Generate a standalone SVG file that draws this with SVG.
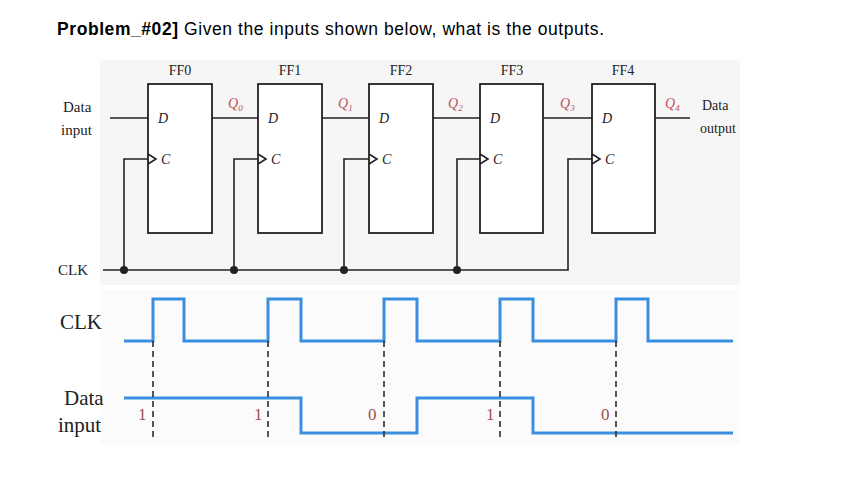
<svg xmlns="http://www.w3.org/2000/svg" width="842" height="497" viewBox="0 0 842 497">
<style>
.s{font-family:"Liberation Serif",serif;fill:#222}
.q{font-family:"Liberation Serif",serif;font-style:italic;fill:#c05060;font-size:14px}
.w{stroke:#222;stroke-width:1.6;fill:none}
.b{stroke:#222;stroke-width:1.8;fill:#fff}
.wave{stroke:#3a8fe0;stroke-width:3;fill:none}
.dash{stroke:#222;stroke-width:1.5;stroke-dasharray:6,4}
.n{font-family:"Liberation Serif",serif;fill:#a05050;font-size:17px}
</style>
<rect width="842" height="497" fill="#fff"/>
<text x="57" y="35" font-family="Liberation Sans,sans-serif" font-size="17.5" fill="#000" textLength="547"><tspan font-weight="bold">Problem_#02]</tspan> Given the inputs shown below, what is the outputs.</text>
<rect x="100" y="60" width="640" height="225" fill="#f6f6f6"/>
<rect x="100" y="290" width="640" height="155" fill="#fbfbfb"/>
<g id="connectors">
<path class="w" d="M110 118H148M212 118H258M322 118H369M433 118H480M543 118H592M655 118H690"/>
<path class="w" d="M103 270H568V159H592M124 270V159H148M234 270V159H258M344 270V159H369M457 270V159H480"/>
<circle cx="124" cy="270" r="4" fill="#222"/><circle cx="234" cy="270" r="4" fill="#222"/><circle cx="344" cy="270" r="4" fill="#222"/><circle cx="457" cy="270" r="4" fill="#222"/>
</g>
<g id="ff0"><rect class="b" x="148" y="84" width="64" height="149"/><text class="s" x="180" y="75" font-size="14" text-anchor="middle">FF0</text><text class="s" x="158" y="123" font-size="14" font-style="italic">D</text><path class="w" d="M148 154L156 159L148 164"/><text class="s" x="161" y="164" font-size="14" font-style="italic">C</text></g>
<g id="ff1"><rect class="b" x="258" y="84" width="64" height="149"/><text class="s" x="290" y="75" font-size="14" text-anchor="middle">FF1</text><text class="s" x="268" y="123" font-size="14" font-style="italic">D</text><path class="w" d="M258 154L266 159L258 164"/><text class="s" x="271" y="164" font-size="14" font-style="italic">C</text></g>
<g id="ff2"><rect class="b" x="369" y="84" width="64" height="149"/><text class="s" x="401" y="75" font-size="14" text-anchor="middle">FF2</text><text class="s" x="379" y="123" font-size="14" font-style="italic">D</text><path class="w" d="M369 154L377 159L369 164"/><text class="s" x="382" y="164" font-size="14" font-style="italic">C</text></g>
<g id="ff3"><rect class="b" x="480" y="84" width="63" height="149"/><text class="s" x="512" y="75" font-size="14" text-anchor="middle">FF3</text><text class="s" x="490" y="123" font-size="14" font-style="italic">D</text><path class="w" d="M480 154L488 159L480 164"/><text class="s" x="493" y="164" font-size="14" font-style="italic">C</text></g>
<g id="ff4"><rect class="b" x="592" y="84" width="63" height="149"/><text class="s" x="623" y="75" font-size="14" text-anchor="middle">FF4</text><text class="s" x="602" y="123" font-size="14" font-style="italic">D</text><path class="w" d="M592 154L600 159L592 164"/><text class="s" x="605" y="164" font-size="14" font-style="italic">C</text></g>
<g id="labels">
<text class="s" x="63" y="112" font-size="15">Data</text><text class="s" x="61" y="135" font-size="15">input</text>
<text class="s" x="702" y="110" font-size="14">Data</text><text class="s" x="700" y="133" font-size="14">output</text>
<text class="s" x="58" y="275" font-size="15">CLK</text>
<text class="q" x="228" y="108">Q<tspan font-size="9" dy="3">0</tspan></text>
<text class="q" x="338" y="108">Q<tspan font-size="9" dy="3">1</tspan></text>
<text class="q" x="448" y="108">Q<tspan font-size="9" dy="3">2</tspan></text>
<text class="q" x="560" y="108">Q<tspan font-size="9" dy="3">3</tspan></text>
<text class="q" x="665" y="108">Q<tspan font-size="9" dy="3">4</tspan></text>
</g>
<g id="waveforms">
<text class="s" x="60" y="329" font-size="21">CLK</text>
<text class="s" x="64" y="405" font-size="21">Data</text>
<text class="s" x="58" y="432" font-size="21">input</text>
<path class="wave" d="M124 341H153V299H184V341H268V299H301V341H384V299H417V341H500V299H533V341H616V299H648V341H733"/>
<path class="wave" d="M124 398H301V433H417V398H533V433H733"/>
<path class="dash" d="M153 341V438M268 341V438M384 341V438M500 341V438M616 341V438"/>
<text class="n" x="138" y="420">1</text><text class="n" x="254" y="420">1</text><text class="n" x="368" y="420">0</text><text class="n" x="486" y="420">1</text><text class="n" x="601" y="420">0</text>
</g>
</svg>
